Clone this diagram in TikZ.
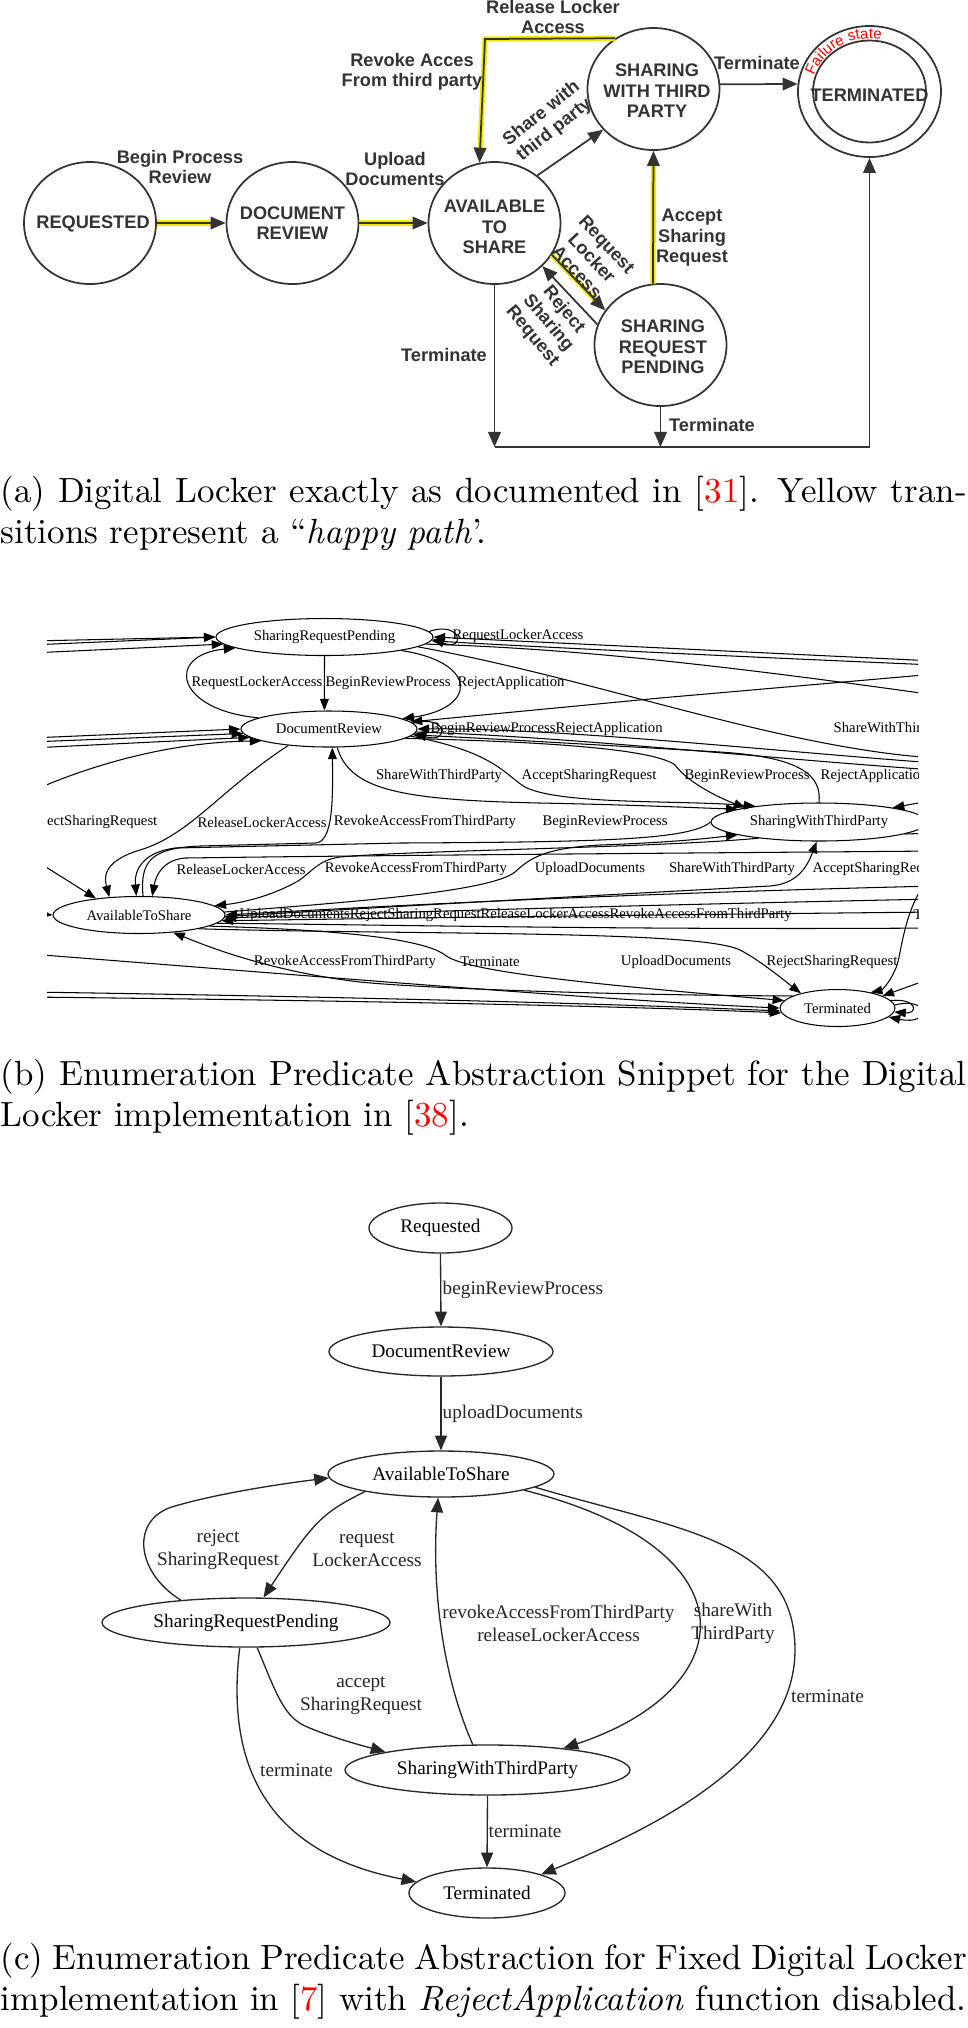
\documentclass[tikz,border=0pt]{standalone}
\usepackage{fontspec}
\newfontfamily\sansA{Liberation Sans}
\newfontfamily\serifT{Liberation Serif}
\usetikzlibrary{arrows.meta,shapes.geometric,decorations.text,calc}
\definecolor{dk}{HTML}{333333}
\definecolor{hl}{RGB}{245,232,0}
\newcommand\fontA{\sansA\bfseries\fontsize{5.2pt}{5.85pt}\selectfont}
\newcommand\fontB{\serifT\fontsize{4.2pt}{5pt}\selectfont}
\newcommand\fontC{\serifT\fontsize{5.5pt}{6.6pt}\selectfont}
\newcommand\fontCap{\fontsize{10pt}{12pt}\selectfont}
\newcommand\citered[1]{\textcolor{red}{#1}}
\begin{document}
\begin{tikzpicture}[x=0.2857pt,y=0.2857pt,
  stA/.style={ellipse, draw=dk, line width=0.5pt, inner sep=0pt, minimum width=37.71pt, minimum height=34.86pt},
  lblA/.style={text=dk, font=\fontA, align=center, inner sep=0pt},
  arA/.style={draw=dk, line width=0.5pt, -{Triangle[length=4.3pt,width=3.6pt]}},
  hlA/.style={arA, preaction={draw=hl, line width=1.5pt, -, shorten >=4pt}},
  stB/.style={ellipse, draw=black, line width=0.3pt, inner sep=0pt, font=\fontB},
  lblB/.style={font=\fontB, inner sep=0pt},
  eB/.style={draw=black, line width=0.3pt},
  aB/.style={eB, -{Triangle[length=3.3pt,width=2.5pt]}},
  stC/.style={ellipse, draw=black!85, line width=0.38pt, inner sep=0pt, font=\fontC},
  lblC/.style={font=\fontC, align=center, inner sep=0pt, text=black!85},
  aC/.style={draw=black!85, line width=0.38pt, -{Triangle[length=4.2pt,width=3.4pt]}},
  capnode/.style={inner sep=0pt, font=\fontCap, anchor=base west}
]
\fill[white] (0,0) rectangle (967,-2028);
\useasboundingbox (0,0) rectangle (967,-2028);

% ---------------- (a) ----------------
\node[stA, label={[lblA,xshift=0.86pt,yshift=-0.29pt]center:REQUESTED}] (req) at (90,-223) {};
\node[stA, label={[lblA]center:DOCUMENT\\REVIEW}] (dr) at (292.5,-223) {};
\node[stA, label={[lblA,yshift=-1.1pt]center:AVAILABLE\\TO\\SHARE}] (ats) at (494.5,-223) {};
\node[stA, label={[lblA,xshift=1pt,yshift=-0.6pt]center:SHARING\\WITH THIRD\\PARTY}] (swtp) at (653.5,-89) {};
\node[stA, label={[lblA,xshift=0.7pt,yshift=-0.6pt]center:SHARING\\REQUEST\\PENDING}] (srp) at (660.5,-345) {};
\node[stA, minimum width=40.86pt, minimum height=37.43pt] (termo) at (869.5,-91.5) {};
\node[stA, minimum width=32.28pt, minimum height=29.14pt, label={[lblA,yshift=-1pt]center:TERMINATED}] (termi) at (869.5,-91.5) {};

\draw[hlA] (req.east) -- (dr.west);
\draw[hlA] (dr.east) -- (ats.west);
\coordinate (rlc) at (485,-39);
\draw[hlA] (swtp.127) -- (rlc) -- (ats.104);
\draw[arA] (ats.48) -- (swtp.219);
\draw[arA] (swtp.4) -- (termo.174);
\draw[hlA] (srp.97) -- (swtp.south);
\draw[hlA] (ats.331) -- (srp.148);
\draw[arA] (srp.162) -- (ats.318);
\coordinate (busL) at (494.5,-447);
\coordinate (busM) at (660.5,-447);
\coordinate (busR) at (869.5,-447);
\draw[arA] (ats.south) -- (busL);
\draw[arA] (srp.south) -- (busM);
\draw[arA] (busL) -- (busR) -- (termo.south);

\node[lblA] (lbegin) at (180,-167) {Begin Process\\Review};
\node[lblA] (lupload) at (395,-169) {Upload\\Documents};
\node[lblA] (lrevoke) at (412,-72) {Revoke Acces\\From third party};
\node[lblA] (lrelease) at (553,-17) {Release Locker\\Access};
\node[lblA, rotate=38.5] (lshare) at (548,-122) {Share with\\third party};
\node[lblA] (lterm1) at (757,-63) {Terminate};
\node[lblA] (laccept) at (692,-238) {Accept\\Sharing\\Request};
\node[lblA, rotate=-47] (lrequest) at (592,-258) {Request\\Locker\\Access};
\node[lblA, rotate=-50] (lreject) at (548,-323) {Reject\\Sharing\\Request};
\node[lblA] (lterm2) at (444,-355) {Terminate};
\node[lblA] (lterm3) at (712,-425) {Terminate};
\path[decorate, decoration={text along path, text={|\sansA\fontsize{4.3pt}{4.3pt}\selectfont|Failure state}, text color=red, text align=center}]
  ($(termo.center)+(178:58 and 53)$) arc[start angle=178, end angle=64, x radius=58, y radius=53];

\node[capnode] (capa1) at (0,-502) {\makebox[276pt][s]{(a) Digital Locker exactly as documented in [\citered{31}]. Yellow tran-}};
\node[capnode] (capa2) at (0,-543) {sitions represent a ``\textit{happy path}'.};

% ---------------- (b) ----------------
\begin{scope}
\clip (47,-612) rectangle (918,-1032);
\node[stB, minimum width=62pt, minimum height=10.57pt] (bSRP) at (324.5,-637) {SharingRequestPending};
\node[stB, minimum width=50.28pt, minimum height=10.29pt] (bDR) at (329,-729) {DocumentReview};
\node[stB, minimum width=49.14pt, minimum height=10.57pt] (bATS) at (139,-915) {AvailableToShare};
\node[stB, minimum width=61.71pt, minimum height=10.86pt] (bSWTP) at (819,-822) {SharingWithThirdParty};
\node[stB, minimum width=32.86pt, minimum height=10.57pt] (bTERM) at (837.5,-1008) {Terminated};

\coordinate (L1) at (30,-641); \coordinate (L2) at (30,-645); \coordinate (L3) at (30,-653);
\coordinate (L4) at (30,-738); \coordinate (L5) at (30,-742); \coordinate (L6) at (30,-748);
\coordinate (L7) at (30,-792); \coordinate (L8) at (30,-913); \coordinate (L9) at (30,-857);
\coordinate (L10) at (30,-954); \coordinate (L11) at (30,-992); \coordinate (L12) at (30,-997);
\coordinate (R1) at (935,-661); \coordinate (R2) at (935,-665); \coordinate (R3) at (935,-758);
\coordinate (R4) at (935,-695); \coordinate (R5) at (935,-674); \coordinate (R6) at (935,-763);
\coordinate (R7) at (935,-770); \coordinate (R8) at (935,-851); \coordinate (R9) at (935,-886);
\coordinate (R10) at (935,-899); \coordinate (R11) at (935,-912); \coordinate (R12) at (935,-928);
\coordinate (R13) at (935,-872); \coordinate (R14) at (935,-977); \coordinate (R15) at (935,-800);
\coordinate (R16) at (935,-833);

% SharingRequestPending
\draw[aB] (L1) -- (bSRP.west);
\draw[aB] (L2) -- (bSRP.west);
\draw[aB] (L3) -- (bSRP.184);
\draw[aB] (bDR.171) .. controls (175,-710) and (165,-655) .. (bSRP.187);
\draw[aB] (bSRP.south) -- (bDR.104);
\draw[aB] (bSRP.-10) .. controls (478,-662) and (478,-708) .. (bDR.8);
\draw[aB] (bSRP.3) .. controls (462,-620) and (466,-652) .. (bSRP.-1);
\draw[aB] (R1) -- (bSRP.east);
\draw[aB] (R2) .. controls (700,-655) and (500,-645) .. (bSRP.-2);
\draw[eB] (bSRP.-6) .. controls (600,-680) and (780,-748) .. (R3);
\draw[eB] (bSRP.-4) .. controls (560,-648) and (700,-662) .. (R4);
\draw[aB] (R5) -- (660,-698) -- (bDR.5);
% DocumentReview
\draw[aB] (L4) -- (bDR.west);
\draw[aB] (L5) -- (bDR.183);
\draw[aB] (L6) -- (bDR.186);
\draw[aB] (L7) .. controls (90,-765) and (170,-742) .. (bDR.190);
\draw[aB] (bDR.4) .. controls (448,-714) and (450,-744) .. (bDR.-3);
\draw[aB] (R6) .. controls (760,-750) and (560,-728) .. (bDR.east);
\draw[eB] (bDR.-2) .. controls (560,-736) and (760,-758) .. (R7);
\draw[aB] (bDR.-66) .. controls (350,-790) and (400,-800) .. (540,-803) .. controls (640,-805) and (700,-808) .. (bSWTP.171);
\draw[aB] (bDR.-5) .. controls (495,-752) and (505,-775) .. (525,-787) .. controls (560,-805) and (680,-800) .. (bSWTP.166);
\draw[aB] (bDR.-7) .. controls (560,-742) and (655,-750) .. (675,-765) .. controls (690,-785) and (725,-800) .. (bSWTP.169);
\draw[aB] (bSWTP.north) .. controls (822,-775) and (800,-757) .. (720,-752) .. controls (600,-745) and (480,-738) .. (bDR.-4);
% AvailableToShare
\draw[aB] (L8) -- (bATS.west);
\draw[aB] (L9) -- (bATS.159);
\draw[aB] (bDR.202) .. controls (220,-790) and (190,-835) .. (140,-850) .. controls (100,-862) and (105,-880) .. (bATS.149);
\draw[aB] (bATS.78) .. controls (140,-862) and (150,-848) .. (200,-846) -- (315,-843) .. controls (333,-843) and (333,-800) .. (bDR.-80);
\draw[aB] (bSWTP.west) .. controls (690,-840) and (600,-842) .. (400,-843) -- (175,-848) .. controls (145,-852) and (134,-868) .. (bATS.98);
\draw[aB] (bSWTP.195) .. controls (650,-848) and (420,-850) .. (340,-857) .. controls (318,-860) and (312,-872) .. (298,-881) .. controls (270,-897) and (240,-903) .. (bATS.7);
\draw[aB] (R8) .. controls (700,-853) and (400,-855) .. (185,-858) .. controls (163,-860) and (156,-875) .. (bATS.55);
\draw[aB] (bATS.2) .. controls (350,-902) and (490,-892) .. (515,-872) .. controls (530,-858) and (545,-848) .. (600,-845) .. controls (680,-842) and (710,-838) .. (bSWTP.189);
\draw[aB] (bATS.-1) .. controls (400,-906) and (640,-893) .. (770,-886) .. controls (795,-884) and (806,-870) .. (bSWTP.-97);
\draw[aB] (R9) .. controls (640,-893) and (400,-905) .. (bATS.east);
\draw[aB] (R10) .. controls (640,-905) and (400,-912) .. (bATS.-2);
\draw[aB] (R11) .. controls (640,-915) and (400,-918) .. (bATS.-4);
\draw[eB] (bATS.-6) .. controls (400,-925) and (640,-930) .. (R12);
% Terminated
\draw[aB] (bATS.-9) .. controls (350,-930) and (425,-940) .. (445,-955) .. controls (465,-972) and (600,-985) .. (bTERM.172);
\draw[aB] (bTERM.165) .. controls (600,-995) and (420,-988) .. (360,-982) .. controls (300,-975) and (240,-960) .. (bATS.-27);
\draw[aB] (bATS.-13) .. controls (420,-935) and (700,-930) .. (740,-950) .. controls (760,-960) and (790,-985) .. (bTERM.158);
\draw[aB] (R13) .. controls (905,-900) and (902,-950) .. (897,-965) .. controls (892,-980) and (882,-990) .. (bTERM.25);
\draw[aB] (R14) -- (bTERM.15);
\draw[aB] (bTERM.8) .. controls (918,-998) and (918,-1014) .. (bTERM.-4);
\draw[aB] (bTERM.3) .. controls (930,-996) and (932,-1026) .. (bTERM.-10);
\draw[aB] (L10) .. controls (300,-975) and (600,-1000) .. (bTERM.west);
\draw[aB] (L11) .. controls (300,-996) and (600,-1003) .. (bTERM.183);
\draw[aB] (L12) .. controls (300,-1000) and (600,-1005) .. (bTERM.185);
\draw[aB] (R15) -- (bSWTP.11);
\draw[eB] (bSWTP.-8) -- (R16);

\node[lblB] at (257,-683) {RequestLockerAccess};
\node[lblB] at (388,-683) {BeginReviewProcess};
\node[lblB] at (511,-683) {RejectApplication};
\node[lblB] at (518,-636) {RequestLockerAccess};
\node[lblB, anchor=west] at (430,-729) {BeginReviewProcessRejectApplication};
\node[lblB, anchor=west] at (833,-729) {ShareWithThirdParty};
\node[lblB] at (439,-776) {ShareWithThirdParty};
\node[lblB] at (589,-776) {AcceptSharingRequest};
\node[lblB] at (747,-776) {BeginReviewProcess};
\node[lblB, anchor=west] at (820,-776) {RejectApplication};
\node[lblB, anchor=east] at (158,-822) {RejectSharingRequest};
\node[lblB] at (262,-822) {ReleaseLockerAccess};
\node[lblB] at (425,-822) {RevokeAccessFromThirdParty};
\node[lblB] at (605,-822) {BeginReviewProcess};
\node[lblB] at (241,-869) {ReleaseLockerAccess};
\node[lblB] at (416,-869) {RevokeAccessFromThirdParty};
\node[lblB] at (590,-869) {UploadDocuments};
\node[lblB] at (732,-869) {ShareWithThirdParty};
\node[lblB, anchor=west] at (812,-869) {AcceptSharingRequest};
\node[lblB, anchor=west] at (239,-915) {UploadDocumentsRejectSharingRequestReleaseLockerAccessRevokeAccessFromThirdParty};
\node[lblB, anchor=west] at (913,-915) {Terminate};
\node[lblB] at (345,-962) {RevokeAccessFromThirdParty};
\node[lblB] at (490,-962) {Terminate};
\node[lblB] at (676,-962) {UploadDocuments};
\node[lblB] at (832,-962) {RejectSharingRequest};
\end{scope}

\node[capnode] (capb1) at (0,-1085) {\makebox[276pt][s]{(b) Enumeration Predicate Abstraction Snippet for the Digital}};
\node[capnode] (capb2) at (0,-1126.5) {Locker implementation in [\citered{38}].};

% ---------------- (c) ----------------
\node[stC, minimum width=40.86pt, minimum height=14.29pt] (cREQ) at (440.5,-1228) {Requested};
\node[stC, minimum width=64pt, minimum height=14pt] (cDR) at (441,-1351.5) {DocumentReview};
\node[stC, minimum width=64.57pt, minimum height=13.14pt] (cATS) at (441,-1474) {AvailableToShare};
\node[stC, minimum width=82.28pt, minimum height=14pt] (cSRP) at (246,-1622.5) {SharingRequestPending};
\node[stC, minimum width=81.42pt, minimum height=14.29pt] (cSWTP) at (487.5,-1770) {SharingWithThirdParty};
\node[stC, minimum width=44.57pt, minimum height=14.29pt] (cTERM) at (487,-1893) {Terminated};

\draw[aC] (cREQ.south) -- (cDR.north);
\draw[aC] (cDR.south) -- (cATS.north);
\draw[aC] (cATS.193) .. controls (322,-1513) and (314,-1521) .. (cSRP.55);
\draw[aC] (cSRP.161) .. controls (135,-1572) and (130,-1518) .. (175,-1506) .. controls (220,-1493) and (280,-1484) .. (cATS.182);
\draw[aC] (cSRP.-66) .. controls (275,-1690) and (283,-1716) .. (305,-1726) .. controls (330,-1737) and (360,-1745) .. (cSWTP.170);
\draw[aC] (cSRP.-104) .. controls (226,-1760) and (262,-1852) .. (cTERM.171);
\draw[aC] (cSWTP.120) .. controls (440,-1670) and (432,-1580) .. (cATS.-97);
\draw[aC] (cATS.-11) .. controls (760,-1550) and (740,-1690) .. (cSWTP.16);
\draw[aC] (cATS.-8) .. controls (680,-1530) and (795,-1540) .. (795,-1650) .. controls (795,-1760) and (650,-1830) .. (cTERM.19);
\draw[aC] (cSWTP.south) -- (cTERM.north);

\node[lblC, anchor=west] at (442,-1290) {beginReviewProcess};
\node[lblC, anchor=west] at (442,-1414) {uploadDocuments};
\node[lblC] at (218,-1549.5) {reject\\SharingRequest};
\node[lblC] at (367,-1549.5) {request\\LockerAccess};
\node[lblC] at (558.5,-1623) {revokeAccessFromThirdParty\\releaseLockerAccess};
\node[lblC] at (733,-1623) {shareWith\\ThirdParty};
\node[lblC] at (827.5,-1696) {terminate};
\node[lblC] at (361,-1696) {accept\\SharingRequest};
\node[lblC] at (296.5,-1770) {terminate};
\node[lblC, anchor=west] at (488,-1831) {terminate};

\node[capnode] (capc1) at (0,-1969.5) {\makebox[276pt][s]{(c) Enumeration Predicate Abstraction for Fixed Digital Locker}};
\node[capnode] (capc2) at (0,-2010.5) {\makebox[276pt][s]{implementation in [\citered{7}] with \textit{RejectApplication} function disabled.}};
\end{tikzpicture}
\end{document}
